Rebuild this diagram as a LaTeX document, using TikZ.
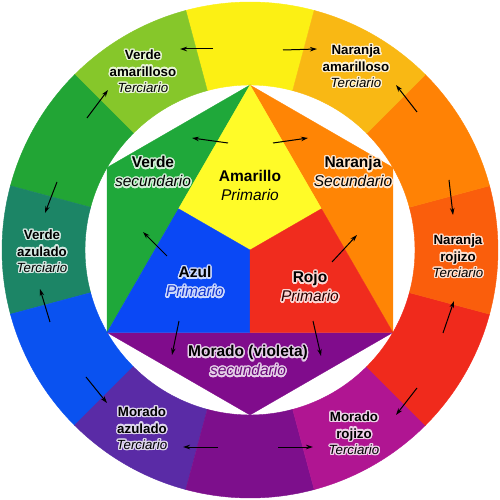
\documentclass[tikz,border=0pt]{standalone}
\usepackage{fontspec}
\setmainfont{Liberation Sans}
\usepackage{contour}
\contourlength{1.3pt}
\contournumber{24}
\usetikzlibrary{arrows.meta,calc}
\definecolor{cY}{HTML}{FCF014}
\definecolor{cYG}{HTML}{86C72A}
\definecolor{cG}{HTML}{22A535}
\definecolor{cBG}{HTML}{1C8566}
\definecolor{cB}{HTML}{0A52F0}
\definecolor{cBV}{HTML}{5A2BA6}
\definecolor{cV}{HTML}{7D0F8C}
\definecolor{cRV}{HTML}{B01592}
\definecolor{cR}{HTML}{F02A1C}
\definecolor{cRO}{HTML}{FA5E0C}
\definecolor{cO}{HTML}{FF8205}
\definecolor{cYO}{HTML}{F9B814}
\definecolor{iY}{HTML}{FFFB28}
\definecolor{iG}{HTML}{1FA83A}
\definecolor{iB}{HTML}{0A48F5}
\definecolor{iR}{HTML}{F02C1E}
\definecolor{iO}{HTML}{FF8505}
\definecolor{iV}{HTML}{800C8C}
\definecolor{tB}{HTML}{1436D0}
\definecolor{tV}{HTML}{6A0A7A}
\newcommand{\olab}[4]{\contour{white!80!#1}{\textbf{#2}}\\\contour{white!80!#1}{\textbf{#3}}\\\contour{white!80!#1}{\textit{#4}}}
\newcommand{\ilab}[4]{\contour{white!80!#1}{\textbf{#2}}\\\textcolor{#4}{\contour{white!80!#1}{\textit{#3}}}}
\tikzset{
  outerlab/.style={align=center,inner sep=0pt,font=\fontsize{13.3}{16.5}\selectfont},
  innerlab/.style={align=center,inner sep=0pt,font=\fontsize{15.5}{19}\selectfont},
  arr/.style={-{Stealth[length=7pt,width=4.5pt]},line width=1pt,black}
}
\begin{document}
\begin{tikzpicture}[x=1pt,y=1pt]
\useasboundingbox (-250,-250) rectangle (250,250);
% outer ring
\foreach \a/\c in {90/cY,120/cYG,150/cG,180/cBG,210/cB,240/cBV,270/cV,300/cRV,330/cR,360/cRO,30/cO,60/cYO}{
  \fill[\c,draw=\c,line width=0.4pt] (\a-15:165) arc[start angle=\a-15,end angle=\a+15,radius=165]
    -- (\a+15:248) arc[start angle=\a+15,end angle=\a-15,radius=248] -- cycle;
}
% inner star
\coordinate (T) at (90:165);
\coordinate (UL) at (150:165);
\coordinate (LL) at (210:165);
\coordinate (B) at (270:165);
\coordinate (LR) at (330:165);
\coordinate (UR) at (30:165);
\coordinate (O) at (0,0);
\coordinate (M1) at ($(T)!0.5!(LL)$);
\coordinate (M2) at ($(T)!0.5!(LR)$);
\coordinate (M3) at ($(LL)!0.5!(LR)$);
\fill[iG,draw=iG,line width=0.3pt] (T) -- (UL) -- (LL) -- cycle;
\fill[iO,draw=iO,line width=0.3pt] (T) -- (UR) -- (LR) -- cycle;
\fill[iV,draw=iV,line width=0.3pt] (LL) -- (B) -- (LR) -- cycle;
\fill[iY,draw=iY,line width=0.3pt] (T) -- (M1) -- (O) -- (M2) -- cycle;
\fill[iB,draw=iB,line width=0.3pt] (LL) -- (M3) -- (O) -- (M1) -- cycle;
\fill[iR,draw=iR,line width=0.3pt] (LR) -- (M3) -- (O) -- (M2) -- cycle;
% inner labels
\node[innerlab] (amar) at (0,64.5) {\textbf{Amarillo}\\\textit{Primario}};
\node[innerlab] (verde) at (-97,77.5) {\ilab{iG}{Verde}{secundario}{black}};
\node[innerlab] (naranja) at (103,77.5) {\ilab{iO}{Naranja}{Secundario}{black}};
\node[innerlab] (azul) at (-55,-32.5) {\ilab{iB}{Azul}{Primario}{tB}};
\node[innerlab] (rojo) at (60,-37.5) {\ilab{iR}{Rojo}{Primario}{black!85!red}};
\node[innerlab] (morado) at (-2,-111.5) {\ilab{iV}{Morado (violeta)}{secundario}{tV}};
% outer labels
\node[outerlab] (vam) at (-107,178) {\olab{cYG}{Verde}{amarilloso}{Terciario}};
\node[outerlab] (nam) at (106,183) {\olab{cYO}{Naranja}{amarilloso}{Terciario}};
\node[outerlab] (vaz) at (-208,-2) {\olab{cBG}{Verde}{azulado}{Terciario}};
\node[outerlab] (nro) at (208,-7) {\olab{cRO}{Naranja}{rojizo}{Terciario}};
\node[outerlab] (maz) at (-108,-179) {\olab{cBV}{Morado}{azulado}{Terciario}};
\node[outerlab] (mro) at (104,-184) {\olab{cRV}{Morado}{rojizo}{Terciario}};
% arrows
\foreach \i/\sx/\sy/\ex/\ey in {
  1/-37/201/-70/201, 2/-163/132/-142/160, 3/-193/68/-205/37, 4/-200/-72/-210/-39,
  5/-164/-127/-143/-153, 6/-32/-197/-67/-197, 7/28/-197/63/-197, 8/167/-138/146/-165,
  9/193/-83/204/-51, 10/199/70/203/35, 11/167/138/146/165, 12/33/200/67/201,
  13/-22/107/-58/112, 14/23/107/58/112, 15/-83/-6/-107/18, 16/82/-12/107/15,
  17/-71/-71/-78/-105, 18/63/-71/71/-106}{
  \coordinate (s\i) at (\sx,\sy);
  \coordinate (e\i) at (\ex,\ey);
  \draw[arr] (s\i) -- (e\i);
}
\end{tikzpicture}
\end{document}
